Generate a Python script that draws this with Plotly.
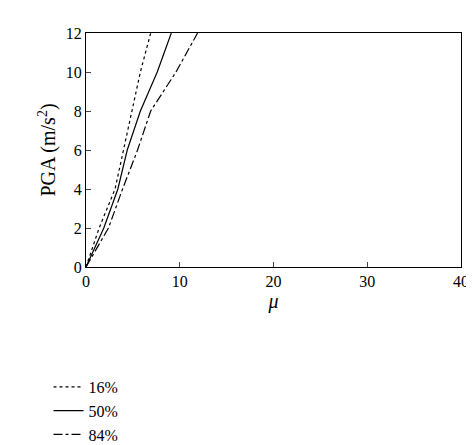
import plotly.graph_objects as go

pga = [0, 2, 4, 6, 8, 10, 12]
mu16 = [0, 1.4, 3.1, 4.0, 4.9, 5.8, 6.9]
mu50 = [0, 1.9, 3.4, 4.4, 5.8, 7.6, 9.1]
mu84 = [0, 2.4, 3.9, 5.5, 6.9, 9.6, 11.9]
names = ["16%", "50%", "84%"]
dashes = ["dot", "solid", "dashdot"]

fig = go.Figure()
for n, m, d in zip(names, [mu16, mu50, mu84], dashes):
    fig.add_trace(go.Scatter(x=m, y=pga, name=n, mode="lines", line=dict(color="black", width=1.2, dash=d)))

ax = dict(showline=True, linecolor="black", linewidth=1, mirror=True, ticks="inside", ticklen=5, showgrid=False, zeroline=False,
          tickfont=dict(size=16, family="Liberation Serif", color="black"))
fig.update_layout(
    width=474, height=445, plot_bgcolor="white", paper_bgcolor="white",
    margin=dict(l=78, r=21, t=25, b=186, autoexpand=False),
    font=dict(family="Liberation Serif", color="black", size=17),
    xaxis=dict(range=[0, 40], dtick=10, title=dict(text="<i>μ</i>", standoff=2), **ax),
    yaxis=dict(range=[0, 12], dtick=2, title=dict(text="PGA (m/s<sup>2</sup>)", standoff=4), **ax),
    legend=dict(x=-0.1, y=-0.44, xanchor="left", yanchor="top", font=dict(size=16), tracegroupgap=0),
)
fig.write_html("out.html")
